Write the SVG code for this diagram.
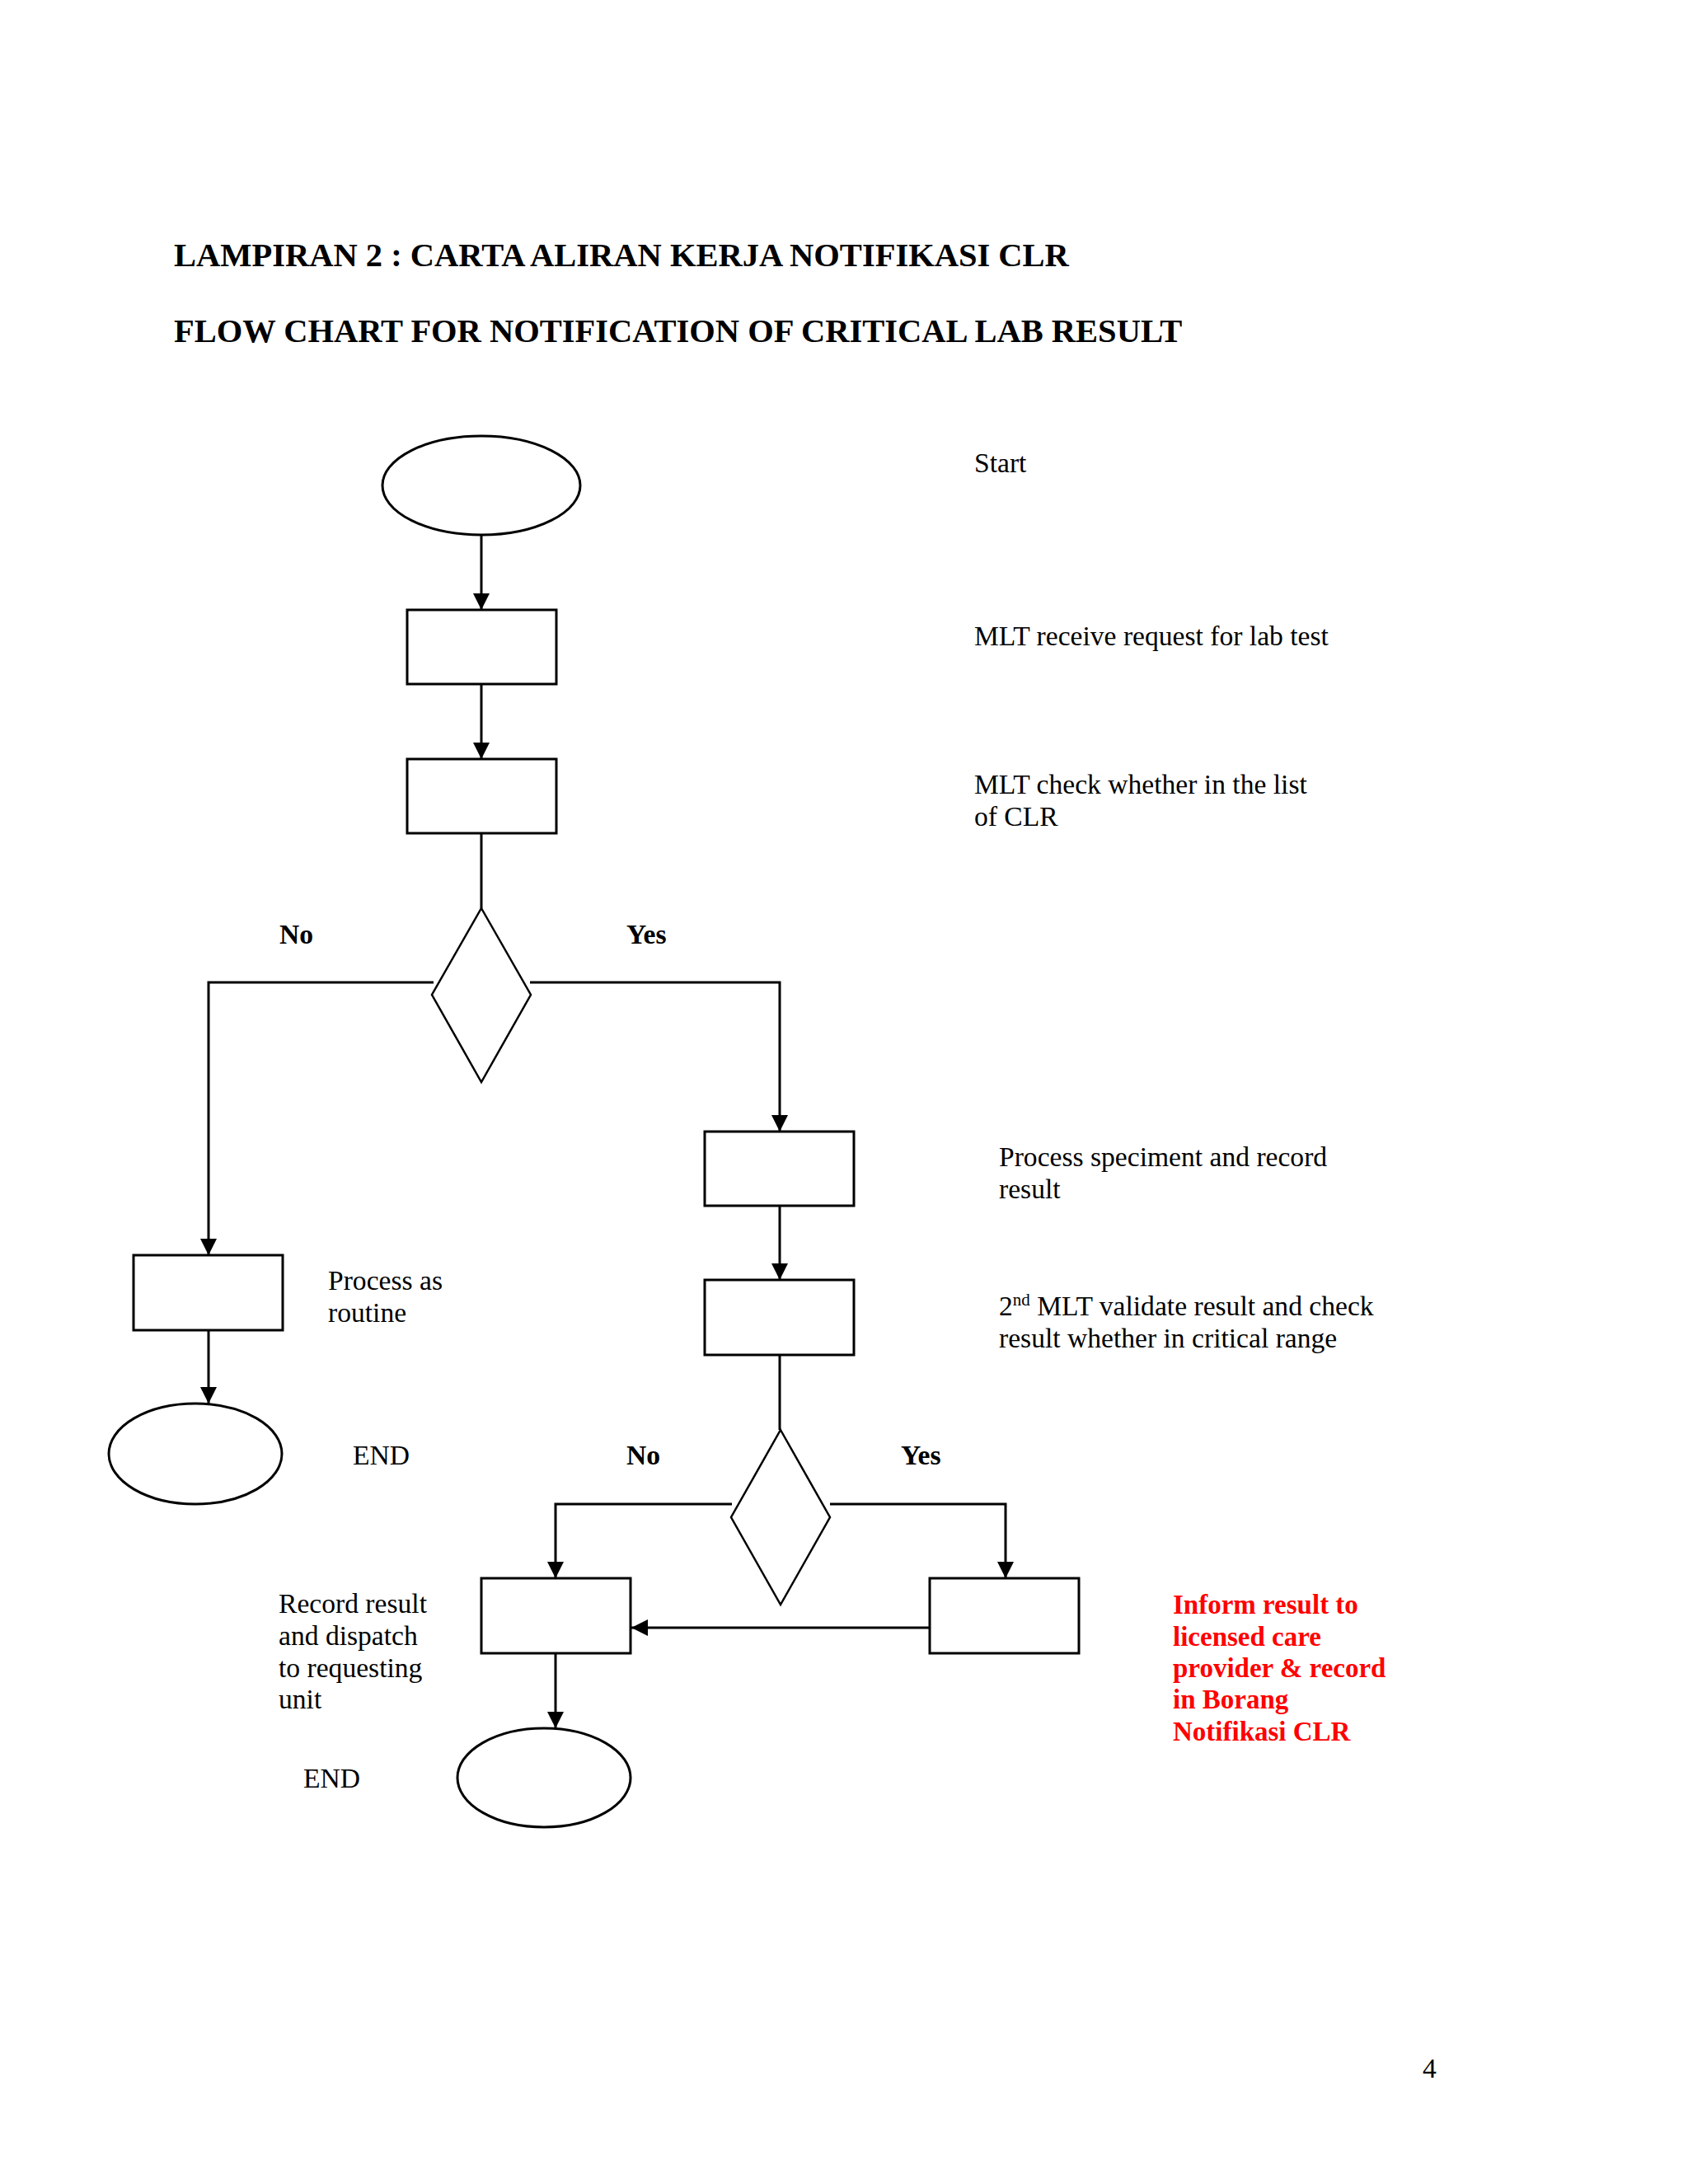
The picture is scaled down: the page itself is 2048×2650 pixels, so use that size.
<svg xmlns="http://www.w3.org/2000/svg" width="2048" height="2650" viewBox="0 0 2048 2650">
<style>
.shape{fill:#fff;stroke:#000;stroke-width:3}
.dia{fill:#fff;stroke:#000;stroke-width:2.5}
.conn{fill:none;stroke:#000;stroke-width:3}
.t{font-family:"Liberation Serif","Times New Roman",serif;font-size:33.6px;fill:#000}
.b{font-weight:bold}
.title{font-family:"Liberation Serif","Times New Roman",serif;font-size:40.5px;font-weight:bold;fill:#000}
.red{fill:#f00;font-weight:bold;font-size:33px}
</style>
<defs>
<marker id="arr" viewBox="0 0 20 20" refX="20" refY="10" markerWidth="20" markerHeight="20" markerUnits="userSpaceOnUse" orient="auto">
<path d="M0,0 L20,10 L0,20 Z" fill="#000"/>
</marker>
</defs>
<rect width="2048" height="2650" fill="#fff"/>
<text class="title" x="211" y="323">LAMPIRAN 2 : CARTA ALIRAN KERJA NOTIFIKASI CLR</text>
<text class="title" x="211" y="415">FLOW CHART FOR NOTIFICATION OF CRITICAL LAB RESULT</text>
<g id="connectors">
<path class="conn" d="M584,649 V740" marker-end="url(#arr)"/>
<path class="conn" d="M584,830 V921" marker-end="url(#arr)"/>
<path class="conn" d="M584,1011 V1102"/>
<path class="conn" d="M526,1192 H253 V1523" marker-end="url(#arr)"/>
<path class="conn" d="M643,1192 H946 V1373" marker-end="url(#arr)"/>
<path class="conn" d="M946,1463 V1553" marker-end="url(#arr)"/>
<path class="conn" d="M946,1644 V1735"/>
<path class="conn" d="M253,1614 V1703" marker-end="url(#arr)"/>
<path class="conn" d="M888,1825 H674 V1915" marker-end="url(#arr)"/>
<path class="conn" d="M1007,1825 H1220 V1915" marker-end="url(#arr)"/>
<path class="conn" d="M1128,1975 H766" marker-end="url(#arr)"/>
<path class="conn" d="M674,2006 V2097" marker-end="url(#arr)"/>
</g>
<g id="start"><ellipse class="shape" cx="584" cy="589" rx="120" ry="60"/></g>
<g id="receive"><rect class="shape" x="494" y="740" width="181" height="90"/></g>
<g id="check"><rect class="shape" x="494" y="921" width="181" height="90"/></g>
<g id="decision1"><polygon class="dia" points="584,1102 644,1207 584,1313 524,1207"/></g>
<g id="routine"><rect class="shape" x="162" y="1523" width="181" height="91"/></g>
<g id="end1"><ellipse class="shape" cx="237" cy="1764" rx="105" ry="61"/></g>
<g id="process"><rect class="shape" x="855" y="1373" width="181" height="90"/></g>
<g id="validate"><rect class="shape" x="855" y="1553" width="181" height="91"/></g>
<g id="decision2"><polygon class="dia" points="947,1735 1007,1841 947,1947 887,1841"/></g>
<g id="record"><rect class="shape" x="584" y="1915" width="181" height="91"/></g>
<g id="inform"><rect class="shape" x="1128" y="1915" width="181" height="91"/></g>
<g id="end2"><ellipse class="shape" cx="660" cy="2157" rx="105" ry="60"/></g>
<g id="labels">
<text class="t b" x="339" y="1145">No</text>
<text class="t b" x="760" y="1145">Yes</text>
<text class="t b" x="760" y="1777">No</text>
<text class="t b" x="1093" y="1777">Yes</text>
<text class="t" x="1182" y="573">Start</text>
<text class="t" x="1182" y="783">MLT receive request for lab test</text>
<text class="t" x="1182" y="963">MLT check whether in the list</text>
<text class="t" x="1182" y="1002">of CLR</text>
<text class="t" x="1212" y="1415">Process speciment and record</text>
<text class="t" x="1212" y="1454">result</text>
<text class="t" x="1212" y="1596">2<tspan font-size="21" dy="-12">nd</tspan><tspan dy="12"> MLT validate result and check</tspan></text>
<text class="t" x="1212" y="1635">result whether in critical range</text>
<text class="t" x="398" y="1565">Process as</text>
<text class="t" x="398" y="1604">routine</text>
<text class="t" x="428" y="1777">END</text>
<text class="t" x="338" y="1957">Record result</text>
<text class="t" x="338" y="1996">and dispatch</text>
<text class="t" x="338" y="2035">to requesting</text>
<text class="t" x="338" y="2073">unit</text>
<text class="t" x="368" y="2169">END</text>
<text class="t red" x="1423" y="1958">Inform result to</text>
<text class="t red" x="1423" y="1997">licensed care</text>
<text class="t red" x="1423" y="2035">provider &amp; record</text>
<text class="t red" x="1423" y="2073">in Borang</text>
<text class="t red" x="1423" y="2112">Notifikasi CLR</text>
<text class="t" x="1726" y="2521" font-size="42">4</text>
</g>
</svg>
